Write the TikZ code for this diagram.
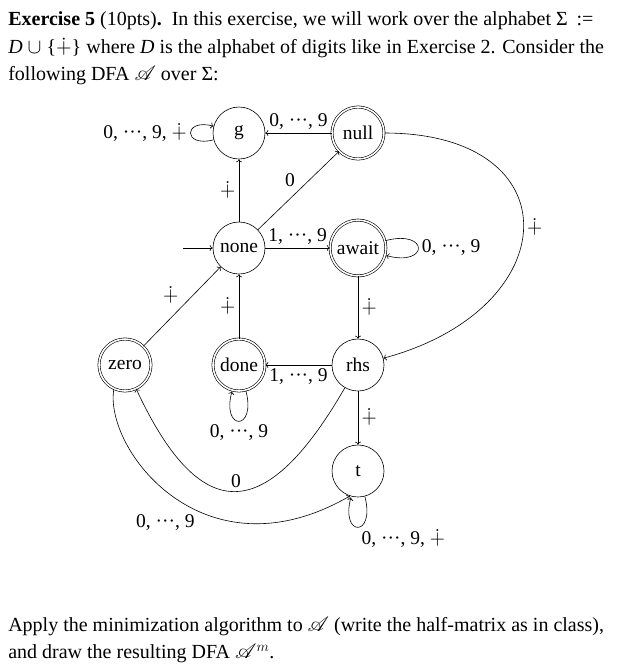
\documentclass[tikz,border=0pt]{standalone}
\usepackage{amssymb}
\usepackage{mathrsfs}
\usepackage{fontspec}
\setmainfont{Liberation Serif}
\usetikzlibrary{positioning,arrows.meta}

\newcommand{\dplus}{\ensuremath{\dotplus}}
\newcommand{\digs}[2]{#1, ···, #2}

\begin{document}
\begin{tikzpicture}[x=1pt, y=1pt, >={To[length=3pt,width=6pt]}, line width=0.6pt,
  font=\fontsize{19.5}{27.5}\selectfont, node distance=115pt, on grid,
  state/.style={draw, circle, minimum size=52pt, inner sep=4.5pt},
  accept/.style={state, double, double distance=1.6pt},
  para/.style={anchor=north west, align=left, inner sep=0pt, font=\fontsize{20}{27.5}\selectfont}]
  \useasboundingbox (0,0) rectangle (624,-670);
  \node[para] (task) at (8,-11.5)
    {\textbf{Exercise 5} (10pts)\textbf{.}\enspace In this exercise, we will work over the alphabet Σ\;\,:=\\
     \textit{D} $\cup$ \{$\dotplus$\} where \textit{D} is the alphabet of digits like in Exercise 2. Consider the\\
     following DFA $\mathscr{A}$ over Σ:};
  \node[state] (none) at (239,-248) {none};
  \node[state] (g) [above=of none] {g};
  \node[accept] (null) [right=119pt of g] {null};
  \node[accept] (await) [right=119pt of none] {await};
  \node[accept] (done) [below=117pt of none] {done};
  \node[accept] (zero) [left=114pt of done] {zero};
  \node[state] (rhs) [right=119pt of done] {rhs};
  \node[state] (t) [below=106pt of rhs] {t};
  \coordinate[left=56pt of none] (start);
  \node[para] (ask) at (8,-616.5)
    {Apply the minimization algorithm to $\mathscr{A}$ (write the half-matrix as in class),\\
     and draw the resulting DFA $\mathscr{A}^m$.};

  \draw[->] (start) -- (none);
  \path[->] (g) edge[loop left, looseness=6] node[left] {\digs{0}{9}, \dplus} (g)
    (null) edge node[above] {\digs{0}{9}} (g)
    (none) edge node[left] {\dplus} (g)
    (none) edge node[above left] {0} (null)
    (none) edge node[above] {\digs{1}{9}} (await)
    (await) edge[loop right] node[right] {\digs{0}{9}} (await)
    (await) edge node[right] {\dplus} (rhs)
    (zero) edge node[above left] {\dplus} (none)
    (done) edge node[left] {\dplus} (none)
    (done) edge[loop below] node[below] {\digs{0}{9}} (done)
    (rhs) edge node[below] {\digs{1}{9}} (done)
    (rhs) edge node[right] {\dplus} (t)
    (t) edge[loop below] node[below right] {\digs{0}{9}, \dplus} (t);
  \draw[->] (null) to[out=0, in=15, looseness=2.15] node[right] {\dplus} (rhs);
  \draw[->] (rhs) to[out=240, in=-65, looseness=1.9] node[above] {0} (zero);
  \draw[->] (zero.-115) .. controls +(-100:60) and +(-150:170) .. node[pos=0.47, below=20pt] {\digs{0}{9}} (t.-108);
\end{tikzpicture}
\end{document}
